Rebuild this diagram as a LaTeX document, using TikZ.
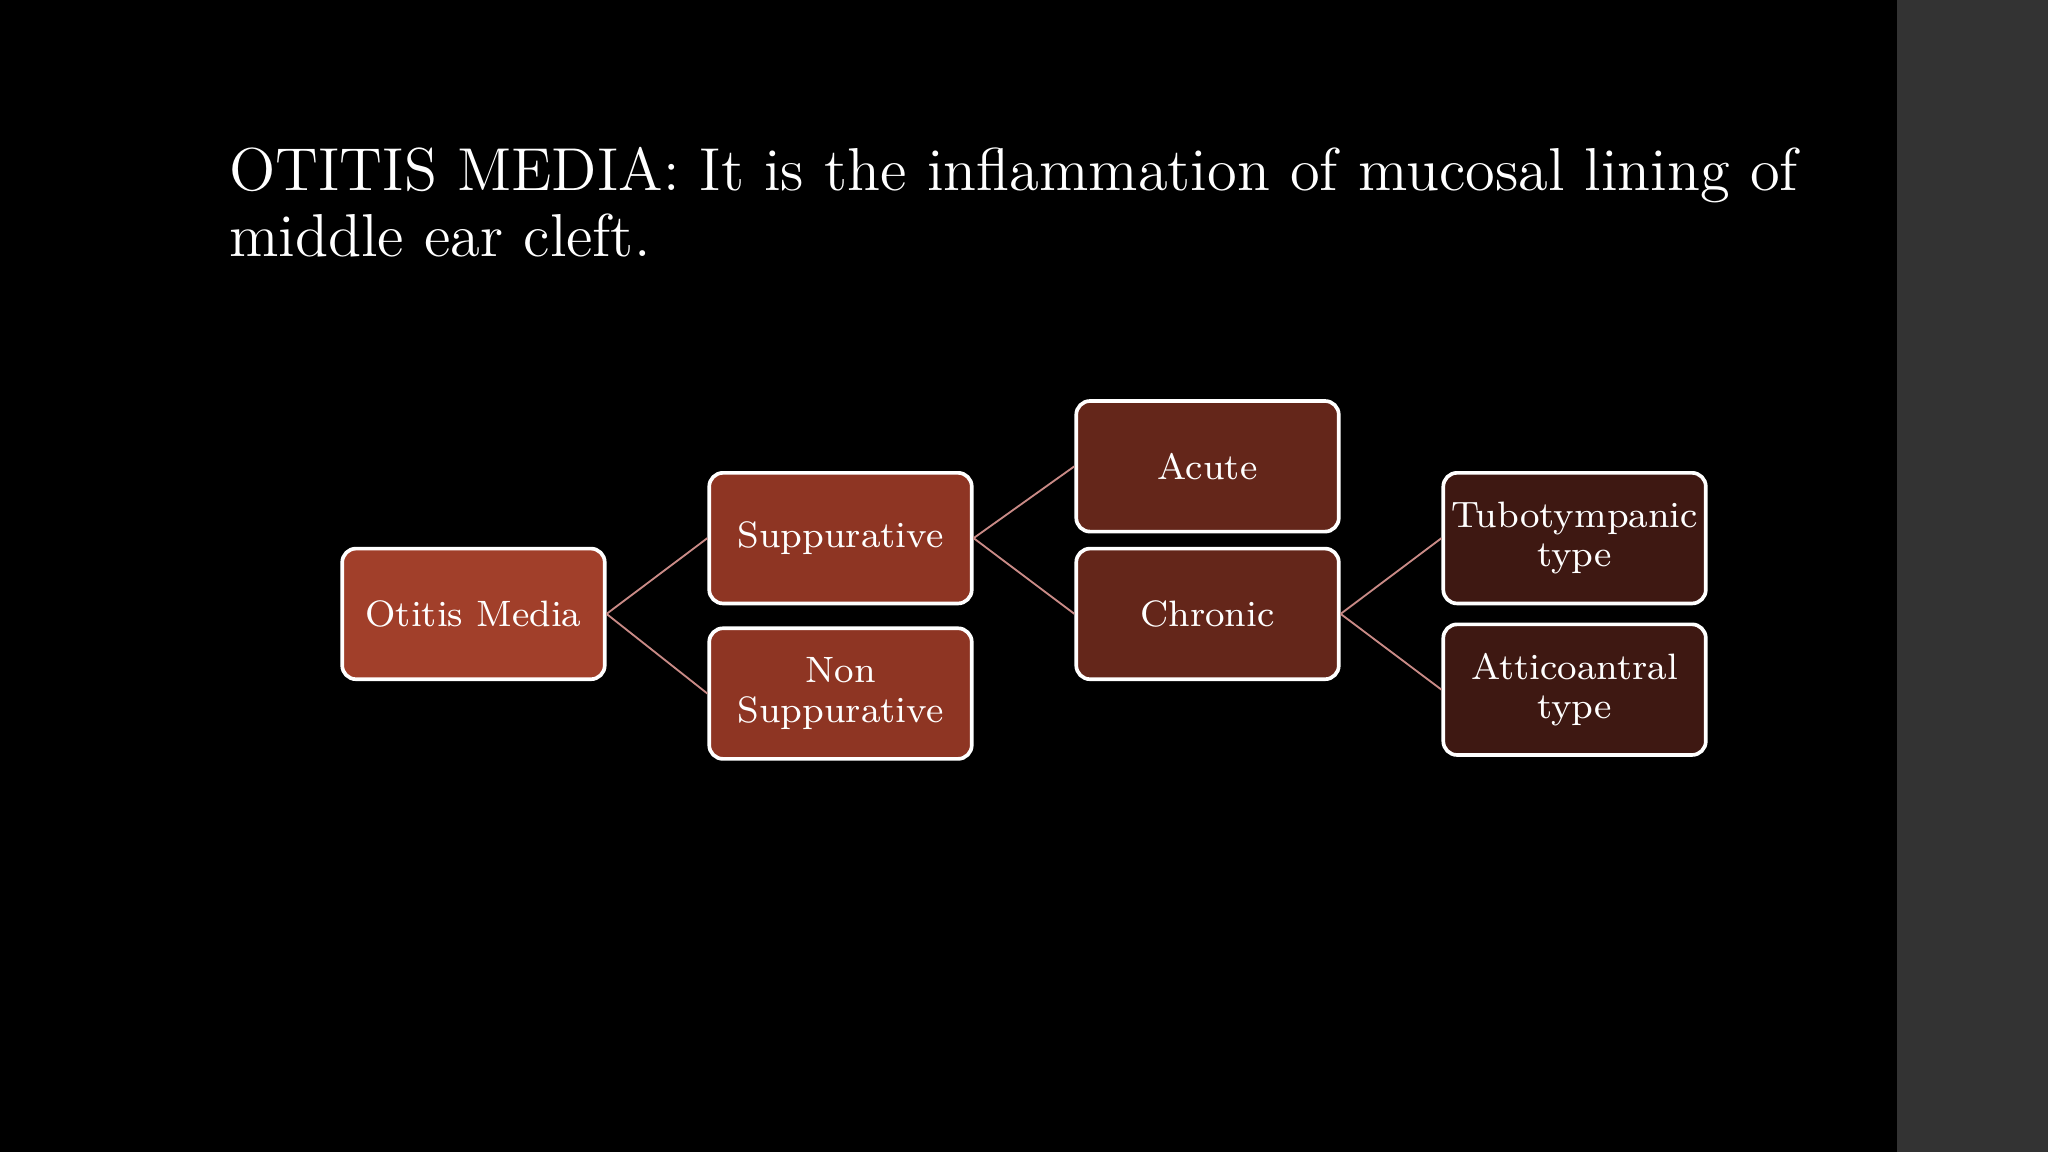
\documentclass[tikz,border=0pt]{standalone}
\usetikzlibrary{positioning}
\definecolor{otitis}{HTML}{A13F2A}
\definecolor{supp}{HTML}{8E3523}
\definecolor{kind}{HTML}{64261A}
\definecolor{stage}{HTML}{3E1812}
\definecolor{link}{HTML}{C98A86}
\definecolor{strip}{HTML}{333333}
\tikzset{
  box/.style={draw=white, thick, rounded corners=3pt, minimum width=2.01cm,
    minimum height=1cm, text=white, align=center, inner sep=1pt,
    font=\fontsize{8}{8.6}\selectfont},
  link/.style={draw=link, thin}
}
\begin{document}
\begin{tikzpicture}
  \fill[black] (0,0) rectangle (15.68,-8.82);
  \fill[strip] (14.52,0) rectangle (15.68,-8.82);
  \useasboundingbox (0,0) rectangle (15.68,-8.82);
  % title
  \node[anchor=north west, text=white, text width=12.6cm, align=left, inner sep=0pt,
    font=\fontsize{13.2}{14.3}\selectfont] (title) at (1.75,-1.12)
    {OTITIS MEDIA: It is the inflammation of mucosal lining of middle ear cleft.};
  % boxes
  \node[box, fill=otitis] (om) at (3.625,-4.70) {Otitis Media};
  \node[box, fill=supp] (sup) at (6.435,-4.12) {Suppurative};
  \node[box, fill=supp] (non) at (6.435,-5.31) {Non\\Suppurative};
  \node[box, fill=kind] (acu) at (9.245,-3.57) {Acute};
  \node[box, fill=kind] (chr) at (9.245,-4.70) {Chronic};
  \node[box, fill=stage] (tub) at (12.055,-4.12) {Tubotympanic\\type};
  \node[box, fill=stage] (att) at (12.055,-5.28) {Atticoantral\\type};
  % links
  \draw[link] (om.east) -- (sup.west);
  \draw[link] (om.east) -- (non.west);
  \draw[link] (sup.east) -- (acu.west);
  \draw[link] (sup.east) -- (chr.west);
  \draw[link] (chr.east) -- (tub.west);
  \draw[link] (chr.east) -- (att.west);
\end{tikzpicture}
\end{document}
